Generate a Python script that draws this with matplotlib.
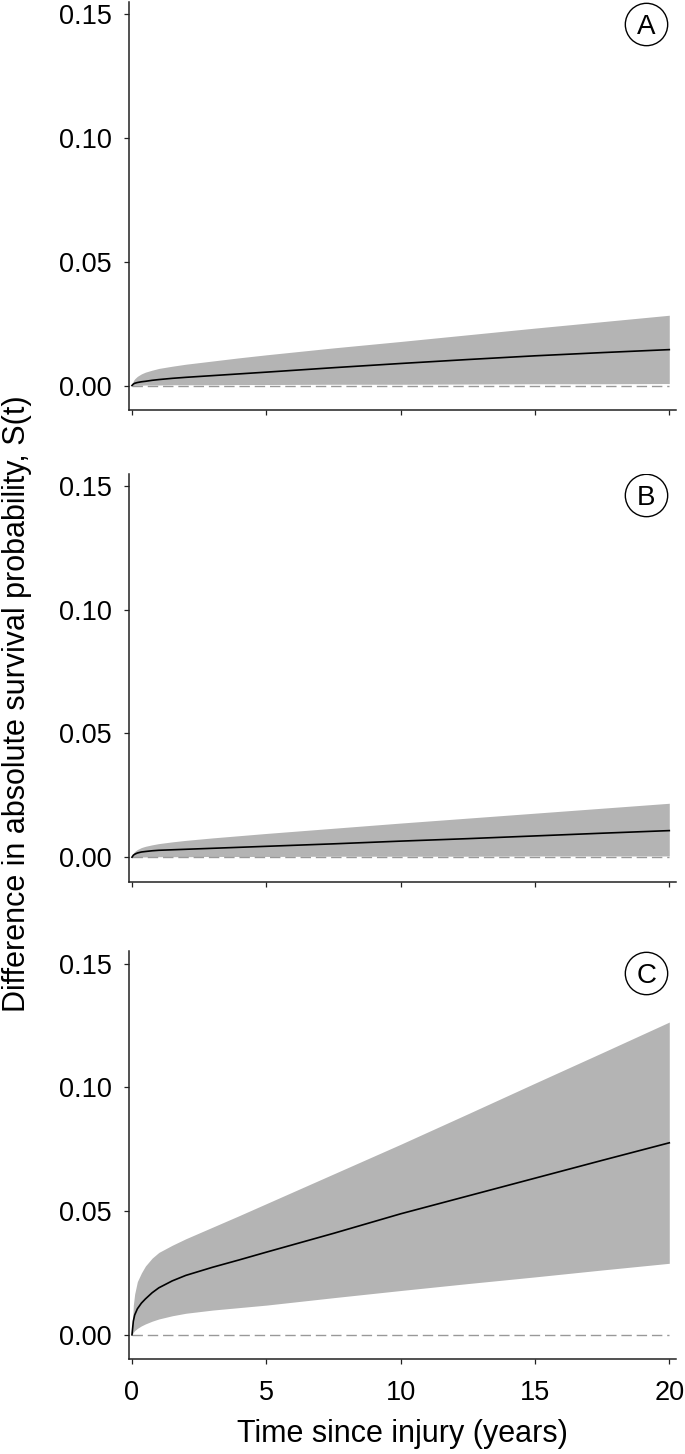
import numpy as np
import matplotlib
matplotlib.use("Agg")
import matplotlib.pyplot as plt

plt.rcParams["font.family"] = ["Liberation Sans", "DejaVu Sans"]
plt.rcParams["lines.scale_dashes"] = False

# time since injury (years)
t = [0, 0.05, 0.1, 0.2, 0.35, 0.5, 0.75, 1, 1.5, 2, 3, 4, 5, 7.5, 10, 12.5, 15, 17.5, 20]

# panel A
mean_a = [0, 0.0006, 0.0009, 0.0012, 0.0015, 0.0017, 0.0021, 0.0024, 0.0029, 0.0033, 0.0040,
          0.0047, 0.0054, 0.0072, 0.0089, 0.0105, 0.0120, 0.0133, 0.0145]
upper_a = [0, 0.0019, 0.0027, 0.0037, 0.0047, 0.0054, 0.0062, 0.0069, 0.0078, 0.0086, 0.0099,
           0.0112, 0.0124, 0.0152, 0.0178, 0.0205, 0.0232, 0.0258, 0.0284]
lower_a = [0, 0.0000, 0.0001, 0.0001, 0.0001, 0.0002, 0.0002, 0.0002, 0.0003, 0.0003, 0.0003,
           0.0004, 0.0004, 0.0005, 0.0005, 0.0006, 0.0007, 0.0007, 0.0008]

# panel B
mean_b = [0, 0.0008, 0.0012, 0.0017, 0.0021, 0.0023, 0.0026, 0.0028, 0.0030, 0.0032, 0.0036,
          0.0040, 0.0044, 0.0054, 0.0065, 0.0075, 0.0086, 0.0097, 0.01075]
upper_b = [0, 0.0016, 0.0023, 0.0031, 0.0039, 0.0044, 0.0050, 0.0055, 0.0062, 0.0068, 0.0078,
           0.0087, 0.0096, 0.0117, 0.0138, 0.0158, 0.0178, 0.0198, 0.0218]
lower_b = [0, 0.0000, 0.0001, 0.0001, 0.0001, 0.0001, 0.0002, 0.0002, 0.0002, 0.0002, 0.0003,
           0.0003, 0.0003, 0.0004, 0.0004, 0.0004, 0.0005, 0.0005, 0.0005]

# panel C
mean_c = [0, 0.0055, 0.0080, 0.0105, 0.0128, 0.0145, 0.0170, 0.0190, 0.0218, 0.0240, 0.0273,
          0.0303, 0.0334, 0.0410, 0.0489, 0.0561, 0.0633, 0.0705, 0.0776]
upper_c = [0, 0.0120, 0.0165, 0.0215, 0.0250, 0.0278, 0.0310, 0.0333, 0.0362, 0.0388, 0.0435,
           0.0482, 0.0530, 0.0650, 0.0770, 0.0893, 0.1017, 0.1140, 0.1264]
lower_c = [0, 0.0010, 0.0017, 0.0026, 0.0036, 0.0044, 0.0055, 0.0064, 0.0077, 0.0087, 0.0100,
           0.0110, 0.0120, 0.0150, 0.0179, 0.0207, 0.0234, 0.0262, 0.0289]

panels = ["A", "B", "C"]
means = [mean_a, mean_b, mean_c]
uppers = [upper_a, upper_b, upper_c]
lowers = [lower_a, lower_b, lower_c]

xticks = [0, 5, 10, 15, 20]
yticks = [0.00, 0.05, 0.10, 0.15]
ytick_labels = ["0.00", "0.05", "0.10", "0.15"]


def main():
    W, H = 685, 1454
    fig = plt.figure(figsize=(W / 100, H / 100), dpi=100)
    left = 129.3 / W
    width = (676 - 129.3) / W
    bottoms_px = [410, 881.7, 1359.3]
    height = 408 / H

    for i, lab in enumerate(panels):
        ax = fig.add_axes([left, 1 - bottoms_px[i] / H, width, height])
        ax.fill_between(t, lowers[i], uppers[i], color="#b4b4b4", lw=0)
        ax.plot([0, 20], [0, 0], color="#999999", lw=1.0, dashes=(7.5, 3.5))
        ax.plot(t, means[i], color="black", lw=1.2)
        ax.plot([19.15], [0.1463], marker="o", ms=30.5, mfc="none", mec="black", mew=1.0)
        ax.text(19.15, 0.1463, lab, ha="center", va="center_baseline", fontsize=20)

        ax.set_xlim(-0.1, 20.25)
        ax.set_ylim(-0.0099, 0.155)
        for s in ["top", "right"]:
            ax.spines[s].set_visible(False)
        for s in ["left", "bottom"]:
            ax.spines[s].set_linewidth(1.1)
            ax.spines[s].set_color("#222222")
        ax.set_xticks(xticks)
        ax.set_yticks(yticks)
        ax.set_yticklabels(ytick_labels)
        ax.tick_params(axis="both", direction="out", length=3.6, width=0.9,
                       labelsize=19.5, colors="#222222", labelcolor="black")
        ax.tick_params(axis="y", pad=9)
        ax.tick_params(axis="x", pad=11)
        if i < 2:
            ax.set_xticklabels([])
        else:
            ax.set_xlabel("Time since injury (years)", fontsize=22, labelpad=10)

    fig.text(17 / W, 1 - 703.5 / H, "Difference in absolute survival probability, S(t)",
             rotation=90, ha="center", va="center", fontsize=22)

    fig.savefig("out.png", dpi=100)
    plt.close()


if __name__ == "__main__":
    main()
